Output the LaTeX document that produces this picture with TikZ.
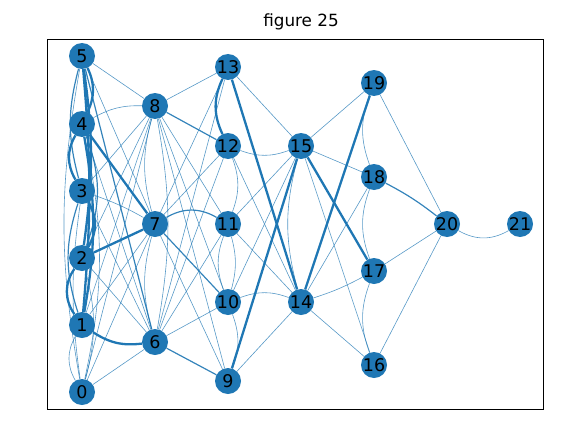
\documentclass[tikz,border=0pt]{standalone}
\usepackage{fontspec}
\setmainfont{DejaVu Sans}
\usetikzlibrary{backgrounds}
\definecolor{tabblue}{HTML}{1F77B4}
\tikzset{
  vtx/.style={circle, fill=tabblue, minimum size=26pt, inner sep=0pt, text=black, font=\fontsize{17.5}{19}\selectfont},
  e1/.style={draw=tabblue, line width=0.6pt, opacity=0.75},
  e2/.style={draw=tabblue, line width=1.2pt, opacity=0.9},
  e3/.style={draw=tabblue, line width=2.3pt},
}
\begin{document}
\begin{tikzpicture}[x=1pt,y=-1pt]
\useasboundingbox (0,0) rectangle (572,436);
\node[font=\fontsize{16.8}{18}\selectfont] (title) at (301,22) {figure 25};
\draw[black, line width=1pt] (47,40) rectangle (543,409);
% nodes
\node[vtx] (n0) at (82,392) {0};
\node[vtx] (n1) at (82,325) {1};
\node[vtx] (n2) at (82,258) {2};
\node[vtx] (n3) at (82,191) {3};
\node[vtx] (n4) at (82,124) {4};
\node[vtx] (n5) at (82,56) {5};
\node[vtx] (n6) at (155,342) {6};
\node[vtx] (n7) at (155,224) {7};
\node[vtx] (n8) at (155,106) {8};
\node[vtx] (n9) at (228,381) {9};
\node[vtx] (n10) at (228,302) {10};
\node[vtx] (n11) at (228,224) {11};
\node[vtx] (n12) at (228,146) {12};
\node[vtx] (n13) at (228,67) {13};
\node[vtx] (n14) at (301,302) {14};
\node[vtx] (n15) at (301,146) {15};
\node[vtx] (n16) at (374,365) {16};
\node[vtx] (n17) at (374,271) {17};
\node[vtx] (n18) at (374,177) {18};
\node[vtx] (n19) at (374,83) {19};
\node[vtx] (n20) at (447,224) {20};
\node[vtx] (n21) at (520,224) {21};
\begin{scope}[on background layer]
% left column internal
\draw[e3] (n5) to[bend left=25] (n4);
\draw[e2] (n5) to[bend right=15] (n3);
\draw[e3] (n5) to[bend left=8] (n2);
\draw[e3] (n5) to[bend left=5] (n1);
\draw[e1] (n5) to[bend right=10] (n0);
\draw[e3] (n4) to[bend right=30] (n3);
\draw[e2] (n4) to[bend left=20] (n2);
\draw[e3] (n4) to[bend left=10] (n1);
\draw[e1] (n4) to[bend left=12] (n0);
\draw[e3] (n3) to[bend left=30] (n2);
\draw[e2] (n3) to[bend right=18] (n1);
\draw[e1] (n3) to[bend right=8] (n0);
\draw[e3] (n2) to[bend right=35] (n1);
\draw[e1] (n2) to[bend left=15] (n0);
\draw[e1] (n1) to[bend right=30] (n0);
% left to middle
\draw[e1] (n5) -- (n8);
\draw[e1] (n5) -- (n7);
\draw[e2] (n5) -- (n6);
\draw[e1] (n4) to[bend left=15] (n8);
\draw[e3] (n4) -- (n7);
\draw[e1] (n4) -- (n6);
\draw[e1] (n3) -- (n8);
\draw[e1] (n3) to[bend left=5] (n7);
\draw[e1] (n3) -- (n6);
\draw[e1] (n2) -- (n8);
\draw[e3] (n2) -- (n7);
\draw[e1] (n2) -- (n6);
\draw[e1] (n1) -- (n8);
\draw[e1] (n1) -- (n7);
\draw[e3] (n1) to[bend right=20] (n6);
\draw[e1] (n0) -- (n8);
\draw[e1] (n0) -- (n7);
\draw[e1] (n0) -- (n6);
% middle internal
\draw[e1] (n8) to[bend right=15] (n7);
\draw[e1] (n7) to[bend right=15] (n6);
\draw[e1] (n8) to[bend left=10] (n6);
% middle to column 3
\draw[e1] (n8) -- (n13);
\draw[e2] (n8) -- (n12);
\draw[e1] (n8) -- (n11);
\draw[e1] (n8) -- (n10);
\draw[e1] (n8) -- (n9);
\draw[e1] (n7) -- (n13);
\draw[e1] (n7) -- (n12);
\draw[e2] (n7) to[bend left=30] (n11);
\draw[e2] (n7) -- (n10);
\draw[e1] (n7) -- (n9);
\draw[e1] (n6) -- (n13);
\draw[e1] (n6) -- (n12);
\draw[e1] (n6) -- (n11);
\draw[e1] (n6) -- (n10);
\draw[e2] (n6) -- (n9);
% column 3 internal
\draw[e3] (n13) to[bend right=25] (n12);
\draw[e1] (n12) to[bend left=20] (n11);
\draw[e1] (n11) to[bend right=20] (n10);
\draw[e1] (n11) to[bend left=15] (n10);
\draw[e1] (n10) to[bend left=20] (n9);
% column 3 to 14/15
\draw[e1] (n13) -- (n15);
\draw[e3] (n13) -- (n14);
\draw[e1] (n12) to[bend right=20] (n15);
\draw[e1] (n12) -- (n14);
\draw[e1] (n11) -- (n15);
\draw[e1] (n11) -- (n14);
\draw[e1] (n10) -- (n15);
\draw[e1] (n10) to[bend left=20] (n14);
\draw[e3] (n9) -- (n15);
\draw[e1] (n9) -- (n14);
\draw[e1] (n15) to[bend right=15] (n14);
% 14/15 to column 5
\draw[e1] (n15) -- (n19);
\draw[e1] (n15) -- (n18);
\draw[e3] (n15) -- (n17);
\draw[e1] (n15) -- (n16);
\draw[e3] (n14) -- (n19);
\draw[e1] (n14) -- (n18);
\draw[e1] (n14) to[bend right=5] (n17);
\draw[e1] (n14) -- (n16);
% column 5 internal
\draw[e1] (n19) to[bend right=20] (n18);
\draw[e1] (n18) to[bend right=20] (n17);
\draw[e1] (n17) to[bend right=20] (n16);
% to 20, 21
\draw[e1] (n19) -- (n20);
\draw[e2] (n18) to[bend left=5] (n20);
\draw[e1] (n17) -- (n20);
\draw[e1] (n16) -- (n20);
\draw[e1] (n20) to[bend right=30] (n21);
\end{scope}
\end{tikzpicture}
\end{document}
